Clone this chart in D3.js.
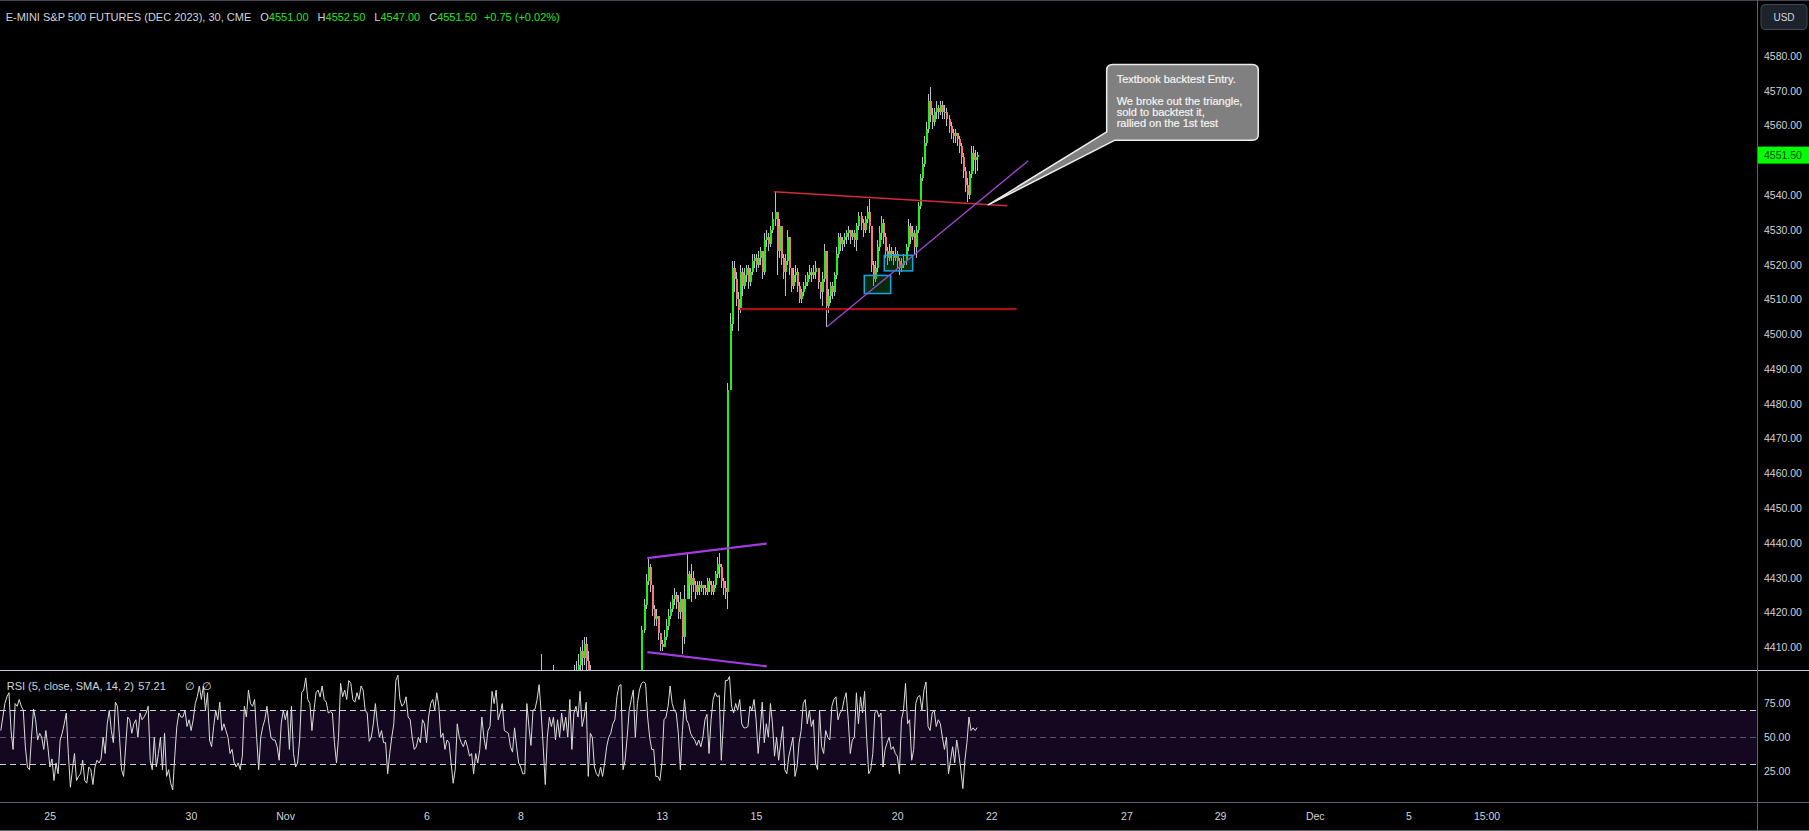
<!DOCTYPE html>
<html>
<head>
<meta charset="utf-8">
<script src="https://cdn.jsdelivr.net/npm/d3@7"></script>
<style>
  html, body { margin: 0; padding: 0; background: #000; }
  svg { display: block; }
  text { font-family: "Liberation Sans", Arial, sans-serif; }
</style>
</head>
<body>
<div id="chart"></div>
<script>
// ---- data (time unit = trading session day, day 0 = Oct 25) ----

// time axis labels
var dayTicks  = [0, 3, 5, 8, 10, 13, 15, 18, 20, 22.87, 24.86, 26.87, 28.86, 30.52];
var dayLabels = ["25", "30", "Nov", "6", "8", "13", "15", "20", "22", "27", "29", "Dec", "5", "15:00"];

// price axis labels
var priceTicks = [4410, 4420, 4430, 4440, 4450, 4460, 4470, 4480, 4490, 4500,
                  4510, 4520, 4530, 4540, 4550, 4560, 4570, 4580];
var rsiTicks = [25, 50, 75];
var rsiBands = [70, 50, 30];

// hourly candles, first one at candleStart
var candleStart = 10.396;
var hourStep = 1 / 23;

var closes = [
  4398,4401,4399,4397,4396,4398,4400,4399,4396,4395,
  4394,4396,4397,4395,4393,4394,4396,4400,4402,4405,
  4409,4407,4411,4406,4403,4400,4398,4396,4394,4392,
  4390,4391,4393,4392,4390,4388,4389,4391,4393,4392,
  4390,4392,4394,4395,4393,4394,4396,4395,4397,4398,
  4415,4422,4429,4433,4428,4421,4418,4419,4414,4411,
  4410,4413,4416,4419,4421,4424,4425,4423,4420,4424,
  4413,4424,4431,4428,4430,4428,4426,4428,4427,4428,
  4427,4426,4429,4428,4426,4428,4431,4434,4433,4429,
  4427,4426,4484,4503,4519,4516,4510,4507,4518,4514,
  4517,4519,4515,4518,4521,4522,4520,4522,4524,4518,
  4527,4528,4526,4530,4533,4535,4524,4531,4522,4518,
  4521,4528,4519,4514,4517,4518,4514,4510,4512,4514,
  4515,4517,4518,4517,4518,4519,4515,4512,4516,4524,
  4508,4511,4514,4512,4517,4523,4528,4526,4527,4528,
  4529,4530,4528,4529,4527,4531,4534,4532,4530,4533,
  4535,4531,4520,4516,4519,4525,4529,4532,4528,4524,
  4522,4524,4523,4522,4523,4521,4519,4520,4521,4525,
  4531,4528,4529,4525,4530,4537,4545,4549,4555,4559,
  4567,4563,4561,4564,4565,4564,4566,4564,4564,4562,
  4560,4558,4557,4558,4556,4554,4551,4547,4543,4540,
  4546,4552,4550,4551,4551.5
];
var highs = [
  4403,4408,4403,4400,4399,4401,4403,4405,4399,4398,
  4397,4399,4400,4398,4396,4397,4399,4405,4406,4408,
  4410,4412,4413,4413,4409,4405,4401,4399,4397,4395,
  4393,4394,4396,4395,4393,4391,4392,4394,4396,4395,
  4393,4395,4397,4398,4396,4397,4399,4398,4400,4401,
  4416,4424,4431,4436,4434,4428,4422,4421,4419,4414,
  4412,4415,4418,4421,4423,4425,4427,4426,4425,4426,
  4424,4428,4437,4432,4434,4432,4429,4429,4429,4429,
  4428,4428,4430,4430,4429,4429,4432,4436,4437,4434,
  4430,4429,4486,4506,4521,4521,4518,4512,4520,4519,
  4519,4520,4520,4519,4523,4523,4523,4524,4525,4524,
  4529,4530,4529,4531,4535,4541,4535,4533,4531,4523,
  4523,4530,4528,4519,4519,4520,4519,4515,4513,4515,
  4517,4518,4520,4519,4520,4521,4519,4515,4518,4526,
  4524,4513,4515,4515,4518,4525,4529,4529,4528,4529,
  4530,4531,4530,4530,4530,4532,4535,4535,4533,4534,
  4537,4539,4531,4521,4521,4527,4531,4534,4533,4529,
  4525,4526,4525,4524,4525,4524,4522,4522,4523,4526,
  4533,4532,4531,4530,4531,4538,4546,4551,4557,4561,
  4569,4571,4565,4565,4567,4566,4567,4567,4566,4565,
  4563,4561,4559,4559,4558,4557,4555,4552,4548,4545,
  4547,4554,4554,4553,4552.5
];
var lows = [
  4394,4396,4395,4393,4392,4394,4396,4395,4392,4391,
  4390,4392,4393,4391,4389,4390,4392,4395,4398,4399,
  4403,4403,4405,4402,4398,4396,4394,4392,4390,4388,
  4386,4387,4389,4388,4386,4384,4385,4387,4389,4388,
  4386,4388,4390,4391,4389,4390,4392,4391,4393,4394,
  4400,4414,4421,4428,4426,4419,4416,4416,4412,4409,
  4409,4410,4412,4415,4418,4420,4422,4421,4418,4418,
  4408,4411,4424,4424,4423,4426,4424,4425,4425,4426,
  4425,4425,4425,4426,4425,4425,4427,4430,4430,4427,
  4425,4424,4421,4484,4501,4512,4508,4501,4506,4511,
  4513,4515,4513,4514,4517,4519,4518,4519,4520,4516,
  4517,4525,4524,4525,4529,4531,4517,4522,4520,4516,
  4511,4520,4517,4512,4513,4515,4512,4509,4509,4511,
  4513,4514,4516,4515,4516,4516,4513,4510,4508,4515,
  4502,4506,4509,4510,4511,4516,4522,4524,4524,4525,
  4526,4527,4526,4527,4525,4524,4530,4530,4528,4529,
  4532,4529,4518,4514,4515,4518,4524,4527,4526,4522,
  4520,4521,4521,4520,4521,4519,4517,4518,4519,4520,
  4524,4526,4527,4523,4522,4529,4536,4544,4548,4554,
  4558,4561,4559,4560,4562,4562,4563,4562,4562,4560,
  4558,4556,4555,4555,4554,4552,4549,4545,4541,4538,
  4539,4545,4547,4546,4547
];

// RSI(5), hourly, first value at rsiStart
var rsiStart = -1.039;
var rsiValues = [
  55,65,75,80,83,55,41,75,73,78,73,70,43,28,26,50,71,63,48,53,
  50,41,55,43,28,34,18,31,23,48,53,60,68,38,13,26,38,18,21,23,
  33,18,16,28,26,15,28,33,31,34,50,38,60,70,55,46,76,73,50,26,
  21,43,65,63,53,60,63,50,68,63,65,68,73,33,26,50,28,38,50,26,
  53,21,26,16,11,36,58,68,65,65,70,58,63,55,63,75,80,88,78,88,
  70,83,48,43,58,70,63,76,55,60,55,50,38,41,31,28,31,26,36,73,
  65,85,75,73,78,50,26,50,58,63,73,60,50,48,48,43,33,60,70,63,
  70,41,73,38,28,31,48,83,85,94,78,75,55,70,83,85,80,88,78,76,
  68,69,68,46,31,50,90,80,85,78,92,90,78,76,83,78,88,85,70,68,
  47,50,60,75,60,50,55,46,46,23,38,50,60,92,96,78,73,75,80,65,
  63,50,41,43,50,46,63,60,46,65,75,78,70,83,73,50,53,41,48,46,
  31,16,26,60,50,46,43,48,43,36,38,23,38,31,41,65,50,41,55,58,
  84,75,85,63,
  68,75,55,54,53,43,39,57,43,31,28,23,23,75,58,44,70,71,78,89,
  68,43,15,50,65,58,65,48,63,50,68,55,65,50,78,41,68,73,65,84,
  58,65,76,21,53,50,28,23,21,28,21,31,43,50,53,60,63,80,88,89,
  26,33,50,70,78,85,50,75,85,90,91,90,65,50,41,41,21,21,18,31,
  63,65,73,88,75,70,68,53,26,55,78,63,60,53,50,48,44,48,43,50,
  63,67,38,63,78,83,80,81,33,60,92,92,95,73,68,75,70,78,60,57,
  57,58,73,70,78,63,38,55,76,46,60,50,75,60,36,50,33,46,58,26,
  23,36,43,50,21,28,46,55,75,78,60,70,58,63,31,26,70,43,38,55,
  50,48,73,78,80,63,68,70,78,83,63,38,48,50,83,60,80,68,84,50,
  23,26,38,68,70,65,68,28,41,46,50,41,43,38,36,23,63,70,90,60,
  63,33,41,75,80,81,70,85,91,58,55,68,70,58,63,60,50,41,50,23,
  33,43,31,48,38,26,12,33,46,65,55,57,55,57.21
];

// drawings: [day1, price1, day2, price2]
var triangleTop    = [15.384, 4540.96, 20.340, 4536.93];
var triangleBase   = [14.662, 4507.2, 20.540, 4507.2];
var risingLine     = [16.504, 4502.1, 20.786, 4549.9];
var channelTop     = [12.693, 4435.6, 15.229, 4439.8];
var channelBottom  = [12.693, 4408.6, 15.229, 4404.5];
var boxes = [
  [17.302, 4516.9, 17.863, 4511.7],
  [17.727, 4522.7, 18.330, 4518.2]
];
var calloutPoint = [19.936, 4537.2];
var calloutLines = ["Textbook backtest Entry.", "", "We broke out the triangle,",
                    "sold to backtest it,", "rallied on the 1st test"];

var symbolTitle = "E-MINI S&P 500 FUTURES (DEC 2023), 30, CME";
var changeText = "+0.75 (+0.02%)";

function init() {
    var W = 1809, H = 831;
    var axisX = 1757;      // price scale starts here
    var mainBottom = 670;  // bottom of the price pane
    var rsiBottom = 802;   // bottom of the RSI pane

    var labelColor = "#d1d4dc";
    var green = "#22e622";

    var xScale = d3.scaleLinear().domain([-1.0557, 36.264]).range([0, axisX]);
    var yScale = d3.scaleLinear().domain([4410, 4580]).range([647.2, 56]);
    var rScale = d3.scaleLinear().domain([30, 70]).range([764.3, 710.3]);

    var svg = d3.select("#chart").append("svg")
        .attr("width", W)
        .attr("height", H)
        .style("background", "#000");

    var defs = svg.append("defs");
    defs.append("clipPath").attr("id", "clipMain").append("rect")
        .attr("x", 0).attr("y", 0).attr("width", axisX).attr("height", mainBottom);
    defs.append("clipPath").attr("id", "clipRsi").append("rect")
        .attr("x", 0).attr("y", mainBottom).attr("width", axisX).attr("height", rsiBottom - mainBottom);

    // ---------- price pane ----------
    var main = svg.append("g").attr("clip-path", "url(#clipMain)");

    var candles = closes.map(function(c, i) {
        var o = i ? closes[i - 1] : c;
        return {
            t: candleStart + i * hourStep,
            o: o,
            c: c,
            h: Math.max(highs[i], o, c),
            l: Math.min(lows[i], o, c)
        };
    });

    // wicks
    main.append("g").selectAll("line")
        .data(candles)
        .enter().append("line")
        .attr("x1", function(d) { return Math.round(xScale(d.t)) + 0.5; })
        .attr("x2", function(d) { return Math.round(xScale(d.t)) + 0.5; })
        .attr("y1", function(d) { return yScale(d.h); })
        .attr("y2", function(d) { return yScale(d.l); })
        .attr("stroke", "#b6c2cc")
        .attr("stroke-width", 1)
        .attr("shape-rendering", "crispEdges");

    // bodies
    main.append("g").selectAll("rect")
        .data(candles)
        .enter().append("rect")
        .attr("x", function(d) { return Math.round(xScale(d.t)) - 0.5; })
        .attr("width", 2)
        .attr("y", function(d) { return yScale(Math.max(d.o, d.c)); })
        .attr("height", function(d) { return Math.max(1, Math.abs(yScale(d.o) - yScale(d.c))); })
        .attr("fill", function(d) { return d.c >= d.o ? "#1ef01e" : "#f7787c"; })
        .attr("shape-rendering", "crispEdges");

    // zones
    main.append("g").selectAll("rect")
        .data(boxes)
        .enter().append("rect")
        .attr("x", function(b) { return xScale(b[0]); })
        .attr("y", function(b) { return yScale(b[1]); })
        .attr("width", function(b) { return xScale(b[2]) - xScale(b[0]); })
        .attr("height", function(b) { return yScale(b[3]) - yScale(b[1]); })
        .attr("fill", "rgba(20,140,40,0.3)")
        .attr("stroke", "#1aa4dc")
        .attr("stroke-width", 1.5);

    // trend lines
    function drawLine(seg, color, width) {
        main.append("line")
            .attr("x1", xScale(seg[0])).attr("y1", yScale(seg[1]))
            .attr("x2", xScale(seg[2])).attr("y2", yScale(seg[3]))
            .attr("stroke", color)
            .attr("stroke-width", width);
    }
    drawLine(triangleBase, "#a80f12", 2.2);
    drawLine(triangleTop, "#d12b3b", 1.4);
    drawLine(risingLine, "#a346d6", 1.3);
    drawLine(channelTop, "#a23be0", 2.2);
    drawLine(channelBottom, "#a23be0", 2.2);

    // callout
    var tipX = xScale(calloutPoint[0]), tipY = yScale(calloutPoint[1]);
    var bx0 = tipX + 118.4, by0 = tipY - 140.4;
    var bx1 = bx0 + 151.6, by1 = by0 + 75.7, r = 6;
    var bubble = "M" + bx0 + "," + (by1 - 8.3) +
        " L" + tipX + "," + tipY +
        " L" + (bx0 + 8.3) + "," + by1 +
        " L" + (bx1 - r) + "," + by1 +
        " Q" + bx1 + "," + by1 + " " + bx1 + "," + (by1 - r) +
        " L" + bx1 + "," + (by0 + r) +
        " Q" + bx1 + "," + by0 + " " + (bx1 - r) + "," + by0 +
        " L" + (bx0 + r) + "," + by0 +
        " Q" + bx0 + "," + by0 + " " + bx0 + "," + (by0 + r) + " Z";
    main.append("path")
        .attr("d", bubble)
        .attr("fill", "#808080")
        .attr("stroke", "#ececec")
        .attr("stroke-width", 1.5)
        .attr("stroke-linejoin", "round");

    main.append("g").selectAll("text")
        .data(calloutLines)
        .enter().append("text")
        .attr("x", bx0 + 10)
        .attr("y", function(d, i) { return by0 + 18.2 + i * 11; })
        .attr("font-size", "11px")
        .attr("fill", "#f4f4f4")
        .attr("stroke", "#f4f4f4")
        .attr("stroke-width", 0.2)
        .text(function(d) { return d; });

    // ---------- RSI pane ----------
    var rsiG = svg.append("g").attr("clip-path", "url(#clipRsi)");

    rsiG.append("rect")
        .attr("x", 0)
        .attr("y", rScale(70))
        .attr("width", axisX)
        .attr("height", rScale(30) - rScale(70))
        .attr("fill", "#13081f");

    rsiG.selectAll(".band")
        .data(rsiBands)
        .enter().append("line")
        .attr("class", "band")
        .attr("x1", 0).attr("x2", axisX)
        .attr("y1", function(d) { return Math.round(rScale(d)) + 0.5; })
        .attr("y2", function(d) { return Math.round(rScale(d)) + 0.5; })
        .attr("stroke", function(d) { return d === 50 ? "#5f5372" : "#cfcfcf"; })
        .attr("stroke-dasharray", "6,4")
        .attr("shape-rendering", "crispEdges");

    var rsiLine = d3.line()
        .x(function(v, i) { return xScale(rsiStart + i * hourStep); })
        .y(function(v) { return rScale(v); });

    rsiG.append("path")
        .datum(rsiValues)
        .attr("d", rsiLine)
        .attr("fill", "none")
        .attr("stroke", "#dcdcdc")
        .attr("stroke-width", 1);

    // ---------- axes ----------
    function styleAxis(g) {
        g.select(".domain").remove();
        g.attr("font-family", null).attr("font-size", null);
        g.selectAll("text")
            .attr("fill", labelColor)
            .attr("font-size", "10.5px")
            .attr("font-family", "'Liberation Sans', Arial, sans-serif");
    }

    var last = closes[closes.length - 1];

    // the last price marker covers the nearest tick label, as on the original
    var shownPriceTicks = priceTicks.filter(function(p) {
        return Math.abs(yScale(p) - yScale(last)) > 10;
    });

    svg.append("g")
        .attr("transform", "translate(" + axisX + ",0)")
        .call(d3.axisRight(yScale).tickValues(shownPriceTicks).tickSize(0).tickPadding(7)
            .tickFormat(d3.format(".2f")))
        .call(styleAxis);

    svg.append("g")
        .attr("transform", "translate(" + axisX + ",0)")
        .call(d3.axisRight(rScale).tickValues(rsiTicks).tickSize(0).tickPadding(7)
            .tickFormat(d3.format(".2f")))
        .call(styleAxis);

    svg.append("g")
        .attr("transform", "translate(0," + rsiBottom + ")")
        .call(d3.axisBottom(xScale).tickValues(dayTicks).tickSize(0).tickPadding(10.5)
            .tickFormat(function(d, i) { return dayLabels[i]; }))
        .call(styleAxis);

    // last price marker
    svg.append("rect")
        .attr("x", axisX)
        .attr("y", yScale(last) - 8.5)
        .attr("width", W - axisX)
        .attr("height", 17)
        .attr("fill", "#00ff00");
    svg.append("text")
        .attr("x", axisX + 7)
        .attr("y", yScale(last))
        .attr("dy", "0.35em")
        .attr("font-size", "10.5px")
        .attr("fill", "#163c16")
        .text(d3.format(".2f")(last));

    // ---------- frame lines ----------
    svg.append("line")
        .attr("x1", 0).attr("x2", W).attr("y1", 0.5).attr("y2", 0.5)
        .attr("stroke", "#434651");
    svg.append("line")
        .attr("x1", 0).attr("x2", W).attr("y1", mainBottom + 0.5).attr("y2", mainBottom + 0.5)
        .attr("stroke", "#c8cbd3");
    svg.append("line")
        .attr("x1", 0).attr("x2", W).attr("y1", rsiBottom + 0.5).attr("y2", rsiBottom + 0.5)
        .attr("stroke", "#60636e");
    svg.append("line")
        .attr("x1", 0).attr("x2", W).attr("y1", H - 0.5).attr("y2", H - 0.5)
        .attr("stroke", "#60636e");
    svg.append("line")
        .attr("x1", axisX + 0.5).attr("x2", axisX + 0.5).attr("y1", 0).attr("y2", H)
        .attr("stroke", "#60636e");

    // currency button
    svg.append("rect")
        .attr("x", 1761).attr("y", 4.5).attr("width", 46).attr("height", 25).attr("rx", 4)
        .attr("fill", "#1e222d").attr("stroke", "#434651");
    svg.append("text")
        .attr("x", 1784).attr("y", 17).attr("dy", "0.35em")
        .attr("text-anchor", "middle")
        .attr("font-size", "10px")
        .attr("fill", labelColor)
        .text("USD");

    // ---------- legends ----------
    var o = closes[closes.length - 2], h = highs[highs.length - 1], l = lows[lows.length - 1];
    var fmt = d3.format(".2f");
    var header = svg.append("text")
        .attr("x", 5.7).attr("y", 21)
        .attr("font-size", "11px")
        .attr("fill", labelColor);
    header.append("tspan").text(symbolTitle);
    [["O", o], ["H", h], ["L", l], ["C", last]].forEach(function(p) {
        header.append("tspan").attr("dx", 9).text(p[0]);
        header.append("tspan").attr("fill", green).text(fmt(p[1]));
    });
    header.append("tspan").attr("dx", 7).attr("fill", green).text(changeText);

    var rsiLabel = svg.append("text")
        .attr("y", 689.5)
        .attr("font-size", "11px")
        .attr("fill", labelColor);
    rsiLabel.append("tspan").attr("x", 6.7).text("RSI (5, close, SMA, 14, 2)");
    rsiLabel.append("tspan").attr("x", 138.3).text(fmt(rsiValues[rsiValues.length - 1]));
    rsiLabel.append("tspan").attr("x", 185).text("\u2205");
    rsiLabel.append("tspan").attr("x", 201.7).text("\u2205");
}
window.onload = init;
</script>
</body>
</html>
